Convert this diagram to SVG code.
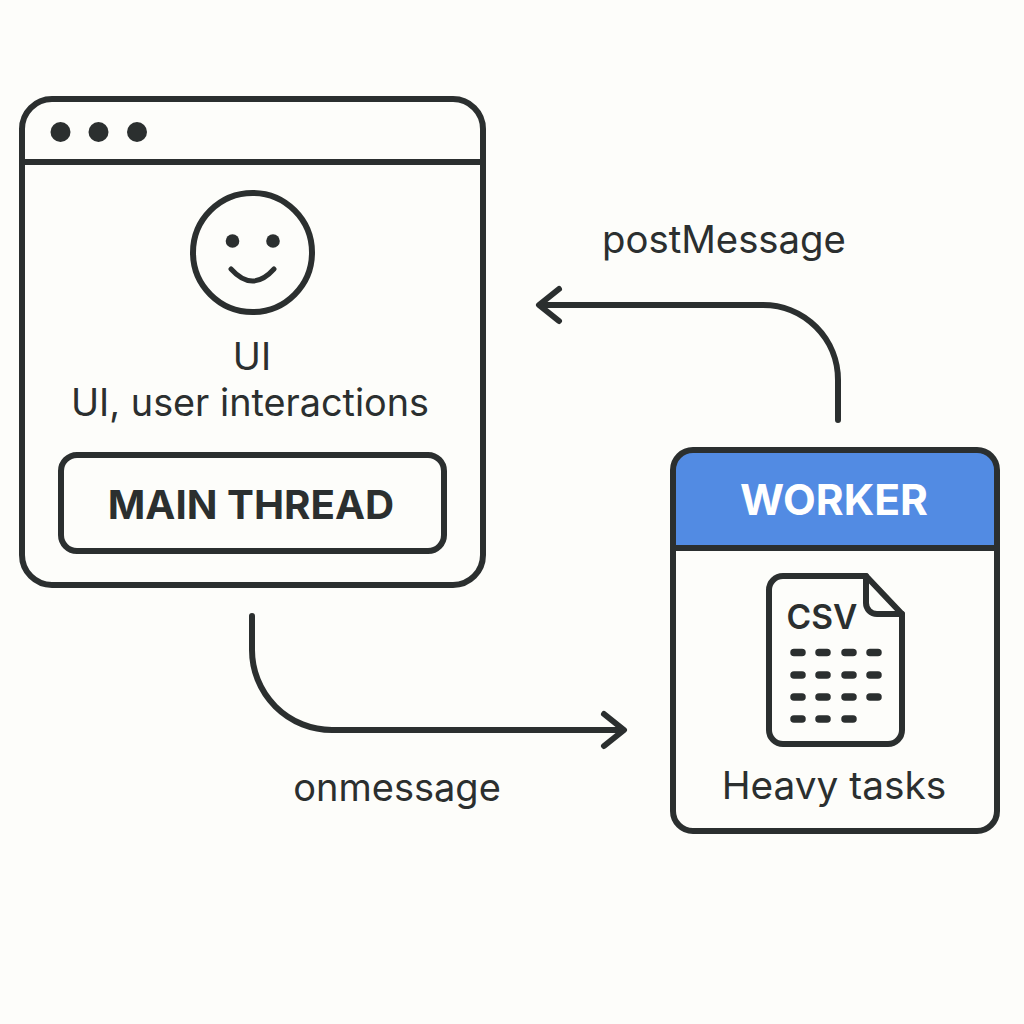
<svg xmlns="http://www.w3.org/2000/svg" width="1024" height="1024" viewBox="0 0 1024 1024">
<style>
.s{fill:none;stroke:#2b2f2f;stroke-width:6;stroke-linecap:round;stroke-linejoin:round}
.d{fill:#2b2f2f}
.t{font-family:Inter,"Liberation Sans",sans-serif;fill:#2b2f2f;text-anchor:middle}
.r{stroke:#2b2f2f;stroke-width:7.500;stroke-linecap:round;fill:none}
</style>
<rect width="1024" height="1024" fill="#fdfdfa"/>
<g id="main-thread">
<rect class="s" x="22" y="99" width="461" height="486" rx="30"/>
<line class="s" x1="22" y1="162" x2="483" y2="162" style="stroke-linecap:butt"/>
<circle class="d" cx="60.500" cy="132" r="10"/><circle class="d" cx="98.500" cy="132" r="10"/><circle class="d" cx="137" cy="132" r="10"/>
<circle class="s" cx="252.500" cy="252.500" r="59.500"/>
<circle class="d" cx="232.500" cy="241" r="6.800"/><circle class="d" cx="273" cy="241" r="6.800"/>
<path class="s" d="M231 269 Q252.500 293 274 269" style="stroke-width:5"/>
<text class="t" x="252" y="370" font-size="37.800">UI</text>
<text class="t" x="250" y="416" font-size="37.800">UI, user interactions</text>
<rect class="s" x="61" y="455" width="383" height="96" rx="16"/>
<text class="t" x="251" y="519" font-size="40.300" font-weight="700">MAIN THREAD</text>
</g>
<g id="worker">
<path d="M673 547V470a20 20 0 0 1 20-20H977a20 20 0 0 1 20 20V547Z" fill="#528be3"/>
<rect class="s" x="673" y="450" width="324" height="381" rx="20"/>
<line class="s" x1="673" y1="548" x2="997" y2="548" style="stroke-linecap:butt"/>
<text class="t" x="834" y="515" font-size="42.500" font-weight="700" style="fill:#fff">WORKER</text>
<path class="s" d="M866 576H783a14 14 0 0 0-14 14V730a14 14 0 0 0 14 14H888a14 14 0 0 0 14-14V614Z"/>
<path class="s" d="M866 576V603a11 11 0 0 0 11 11H902"/>
<text class="t" x="822" y="629" font-size="33.500" font-weight="600">CSV</text>
<g id="rows">
<path class="r" d="M794 652.500h8M819 652.500h8M845 652.500h8M870 652.500h8M794 675h8M819 675h8M845 675h8M870 675h8M794 697h8M819 697h8M845 697h8M870 697h8M794 719h8M819 719h8M845 719h8"/>
</g>
<text class="t" x="834" y="799" font-size="38.800">Heavy tasks</text>
</g>
<g id="connectors">
<path class="s" d="M838 420V380A75 75 0 0 0 763 305H542"/>
<path class="s" d="M559 289L539 305L559 321"/>
<path class="s" d="M252 616V650A80 80 0 0 0 332 730H622"/>
<path class="s" d="M604 714L624 730L604 746"/>
</g>
<text class="t" x="724" y="253" font-size="38.300">postMessage</text>
<text class="t" x="397" y="801" font-size="38">onmessage</text>
</svg>
